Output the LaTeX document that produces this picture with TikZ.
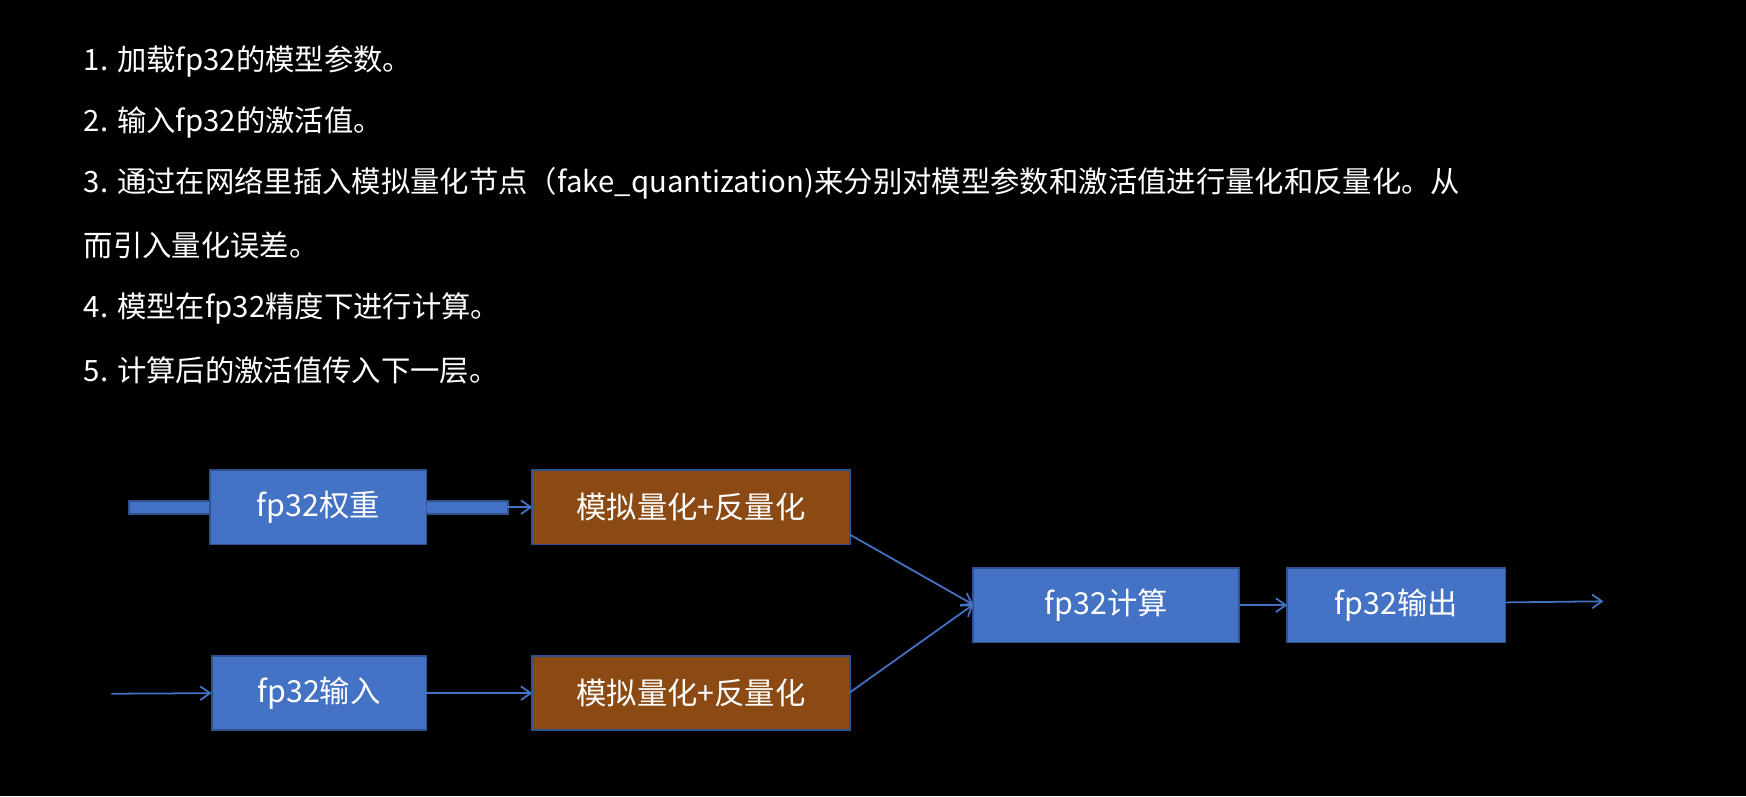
\documentclass[tikz,border=0pt]{standalone}
\usepackage{fontspec}
\setmainfont{Noto Sans CJK SC}
\usetikzlibrary{arrows.meta}
\definecolor{bx}{HTML}{4472C4}
\definecolor{br}{HTML}{8B4A14}
\definecolor{bd}{HTML}{2F528F}
\begin{document}
\begin{tikzpicture}[x=0.02cm,y=-0.02cm,
  txt/.style={anchor=west,text=white,font=\fontsize{15}{18}\selectfont,inner sep=0pt},
  bluebox/.style={draw=bd,fill=bx,line width=1pt,text=white,font=\fontsize{15.5}{18}\selectfont},
  brownbox/.style={draw=bd,fill=br,line width=1pt,text=white,font=\fontsize{15.5}{18}\selectfont},
  arr/.style={draw=bx,line width=0.9pt,-{Straight Barb[length=5pt,width=7pt]}}]
\fill[black] (0,0) rectangle (1568,715);
\useasboundingbox (0,0) rectangle (1568,715);
\node[txt] (l1) at (75,55) {1. 加载fp32的模型参数。};
\node[txt] (l2) at (75,110) {2. 输入fp32的激活值。};
\node[txt] (l3) at (75,165) {3. 通过在网络里插入模拟量化节点（fake\_quantization)来分别对模型参数和激活值进行量化和反量化。从};
\node[txt] (l3b) at (75,220) {而引入量化误差。};
\node[txt] (l4) at (75,277) {4. 模型在fp32精度下进行计算。};
\node[txt] (l5) at (75,333) {5. 计算后的激活值传入下一层。};
\node[bluebox,minimum width=194\pgflinewidth] (w) at (286,455.5) {};
\path (189,422) node[coordinate](wa){};
\draw[draw=bd,fill=bx,line width=1pt] (189,422) rectangle (383,489);
\node[bluebox,draw=none,fill=none] (wt) at (286,455.5) {fp32权重};
\draw[draw=bd,fill=br,line width=1pt] (478,422) rectangle (763,489);
\node[bluebox,draw=none,fill=none] (q1) at (620.5,455.5) {模拟量化+反量化};
\draw[draw=bd,fill=bx,line width=1pt] (190,589) rectangle (383,656);
\node[bluebox,draw=none,fill=none] (in) at (286.5,622.5) {fp32输入};
\draw[draw=bd,fill=br,line width=1pt] (478,589) rectangle (763,656);
\node[bluebox,draw=none,fill=none] (q2) at (620.5,622.5) {模拟量化+反量化};
\draw[draw=bd,fill=bx,line width=1pt] (874,510) rectangle (1113,577);
\node[bluebox,draw=none,fill=none] (c) at (993.5,543.5) {fp32计算};
\draw[draw=bd,fill=bx,line width=1pt] (1156,510) rectangle (1352,577);
\node[bluebox,draw=none,fill=none] (o) at (1254,543.5) {fp32输出};
\coordinate (s) at (100,623);
\coordinate (e) at (1440,540);
\coordinate (wE) at (383,455.5);
\coordinate (q1W) at (478,455.5);
\coordinate (q1E) at (763,480);
\coordinate (inW) at (190,622.5);
\coordinate (inE) at (383,622.5);
\coordinate (q2W) at (478,622.5);
\coordinate (q2E) at (763,622);
\coordinate (cW) at (874,543);
\coordinate (cE) at (1113,543.5);
\coordinate (oW) at (1156,543.5);
\coordinate (oE) at (1352,541);
\draw[arr] (s) -- (inW);
\draw[arr] (wE) -- (q1W);
\draw[arr] (inE) -- (q2W);
\draw[arr] (q1E) -- (cW);
\draw[arr] (q2E) -- (cW);
\draw[arr] (cE) -- (oW);
\draw[arr] (oE) -- (e);
\end{tikzpicture}
\end{document}
